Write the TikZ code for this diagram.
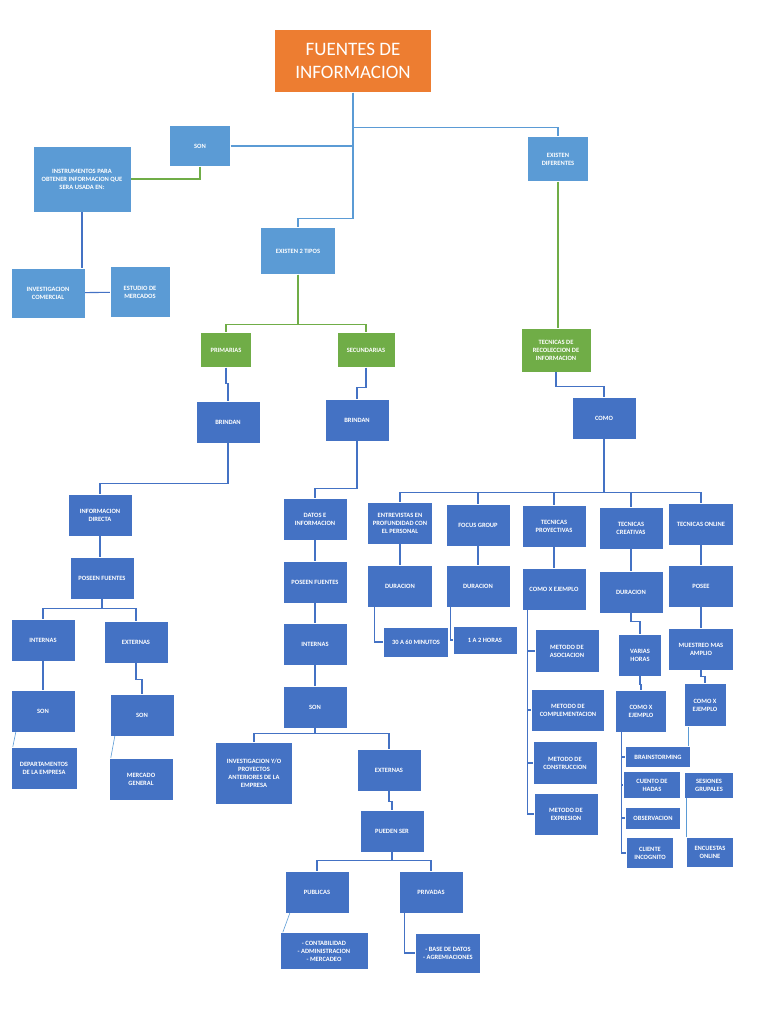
\documentclass[tikz,border=0pt]{standalone}
\usepackage{fontspec}
\setmainfont{Carlito}
\usetikzlibrary{positioning}
\definecolor{boxblue}{RGB}{68,114,196}
\definecolor{lightblue}{RGB}{91,155,213}
\definecolor{boxgreen}{RGB}{112,173,71}
\definecolor{titleorange}{RGB}{237,125,49}
\begin{document}
\begin{tikzpicture}[
  x=1pt, y=-1pt,
  box/.style = {draw=white, line width=0.4pt, fill=boxblue, text=white, align=center, inner sep=1pt,
                font=\bfseries\fontsize{6.5}{8}\selectfont, minimum width=64pt, minimum height=42pt},
  top/.style = {box, fill=lightblue},
  grn/.style = {box, fill=boxgreen},
  line/.style = {draw=boxblue, line width=1.1pt},
  topline/.style = {draw=lightblue, line width=1.1pt},
  gline/.style = {draw=boxgreen, line width=1.1pt},
  thin/.style = {draw=lightblue, line width=0.6pt}
  ]
	\useasboundingbox (0,0) rectangle (768,1024);

	% upper part
	\node[box, fill=titleorange, minimum width=157pt, minimum height=63pt, font=\fontsize{19}{23}\selectfont] (title) at (353,61) {FUENTES DE\\INFORMACION};
	\node[top, minimum width=61pt, minimum height=41pt] (son) at (200,146) {SON};
	\node[top, minimum width=98pt, minimum height=66pt] (instr) at (82,179) {INSTRUMENTOS PARA\\OBTENER INFORMACION QUE\\SERA USADA EN:};
	\node[top, minimum width=61pt, minimum height=45pt] (existen) at (558,159) {EXISTEN\\DIFERENTES};
	\node[top, minimum width=75pt, minimum height=47pt] (dostipos) at (298,251) {EXISTEN 2 TIPOS};
	\node[top, minimum width=74pt, minimum height=50pt] (invcom) at (48,293) {INVESTIGACION\\COMERCIAL};
	\node[top, minimum width=60pt, minimum height=51pt] (estmer) at (140,292) {ESTUDIO DE\\MERCADOS};
	\node[grn, minimum width=51pt, minimum height=35pt] (prim) at (226,350) {PRIMARIAS};
	\node[grn, minimum width=58pt, minimum height=35pt] (secu) at (366,350) {SECUNDARIAS};
	\node[grn, minimum width=70pt, minimum height=44pt] (tecrec) at (556,350) {TECNICAS DE\\RECOLECCION DE\\INFORMACION};
	\node[box] (brinP) at (228,422) {BRINDAN};
	\node[box] (brinS) at (357,420) {BRINDAN};
	\node[box] (como) at (604,418) {COMO};

	% primarias
	\node[box] (infdir) at (100,515) {INFORMACION\\DIRECTA};
	\node[box] (posP) at (102,578) {POSEEN FUENTES};
	\node[box] (intP) at (43,640) {INTERNAS};
	\node[box] (extP) at (136,642) {EXTERNAS};
	\node[box] (sonI) at (43,711) {SON};
	\node[box] (sonE) at (142,715) {SON};
	\node[box, minimum width=66pt] (depto) at (44,768) {DEPARTAMENTOS\\DE LA EMPRESA};
	\node[box] (mercado) at (141,779) {MERCADO\\GENERAL};

	% secundarias
	\node[box] (datos) at (315,519) {DATOS E\\INFORMACION};
	\node[box] (posS) at (315,582) {POSEEN FUENTES};
	\node[box] (intS) at (315,644) {INTERNAS};
	\node[box] (sonS) at (315,707) {SON};
	\node[box, minimum width=77pt, minimum height=62pt] (invest) at (254,773) {INVESTIGACION Y/O\\PROYECTOS\\ANTERIORES DE LA\\EMPRESA};
	\node[box] (extS) at (389,770) {EXTERNAS};
	\node[box] (pueden) at (392,831) {PUEDEN SER};
	\node[box] (publ) at (317,892) {PUBLICAS};
	\node[box] (priv) at (431,892) {PRIVADAS};
	\node[box, minimum width=88pt, minimum height=37pt] (conta) at (324,951) {- CONTABILIDAD\\- ADMINISTRACION\\- MERCADEO};
	\node[box, minimum width=65pt, minimum height=40pt] (bases) at (448,953) {- BASE DE DATOS\\- AGREMIACIONES};

	% tecnicas
	\node[box, minimum width=65pt] (entre) at (400,523) {ENTREVISTAS EN\\PROFUNDIDAD CON\\EL PERSONAL};
	\node[box] (focus) at (478,525) {FOCUS GROUP};
	\node[box] (proy) at (554,526) {TECNICAS\\PROYECTIVAS};
	\node[box] (crea) at (631,528) {TECNICAS\\CREATIVAS};
	\node[box, minimum width=65pt] (online) at (701,524) {TECNICAS ONLINE};
	\node[box, minimum width=65pt] (durE) at (400,586) {DURACION};
	\node[box] (durF) at (478,586) {DURACION};
	\node[box] (ejP) at (554,589) {COMO X EJEMPLO};
	\node[box] (durC) at (631,592) {DURACION};
	\node[box, minimum width=65pt] (posee) at (701,586) {POSEE};
	\node[box, minimum width=65pt, minimum height=30pt] (min) at (416,642) {30 A 60 MINUTOS};
	\node[box, minimum height=28pt] (horas) at (485,640) {1 A 2 HORAS};
	\node[box, minimum height=43pt] (asoc) at (567,651) {METODO DE\\ASOCIACION};
	\node[box, minimum width=73pt] (compl) at (568,710) {METODO DE\\COMPLEMENTACION};
	\node[box, minimum height=43pt] (constr) at (565,763) {METODO DE\\CONSTRUCCION};
	\node[box] (expr) at (566,814) {METODO DE\\EXPRESION};
	\node[box, minimum width=43pt] (varias) at (640,655) {VARIAS\\HORAS};
	\node[box, minimum width=51pt] (ejC) at (641,711) {COMO X\\EJEMPLO};
	\node[box, minimum width=65pt] (muest) at (701,649) {MUESTREO MAS\\AMPLIO};
	\node[box, minimum width=42pt, minimum height=43pt] (ejO) at (705,705) {COMO X\\EJEMPLO};
	\node[box, minimum width=65pt, minimum height=21pt] (brain) at (658,757) {BRAINSTORMING};
	\node[box, minimum width=57pt, minimum height=27pt] (cuento) at (652,785) {CUENTO DE\\HADAS};
	\node[box, minimum width=49pt, minimum height=26pt] (sesion) at (709,785) {SESIONES\\GRUPALES};
	\node[box, minimum width=55pt, minimum height=22pt] (observ) at (653,818) {OBSERVACION};
	\node[box, minimum width=47pt, minimum height=31pt] (cliente) at (650,853) {CLIENTE\\INCOGNITO};
	\node[box, minimum width=47pt, minimum height=30pt] (encuesta) at (710,852) {ENCUESTAS\\ONLINE};

	% connectors, upper part
	\draw[topline] (title.south) -- ++(0,35) -| (existen.north);
	\draw[topline] (son.east) -| (title.south);
	\draw[topline] (title.south) |- ([yshift=9pt]dostipos.north) -- (dostipos.north);
	\draw[gline] (son.south) |- (instr.east);
	\draw[line] (instr.south) -- (instr.south |- invcom.north);
	\draw[line] (invcom) -- (estmer);
	\draw[gline] (dostipos.south) -- ++(0,50) -| (prim.north);
	\draw[gline] (dostipos.south) -- ++(0,50) -| (secu.north);
	\draw[gline] (existen.south) -- (existen.south |- tecrec.north);
	\draw[line] (tecrec.south) -- ++(0,14) -| (como.north);
	\draw[line] (prim.south) -- ++(0,16) -| (brinP.north);
	\draw[line] (secu.south) -- ++(0,20) -| (brinS.north);

	% connectors, primarias
	\draw[line] (brinP.south) -- ++(0,40) -| (infdir.north);
	\draw[line] (infdir.south) -- (infdir.south |- posP.north);
	\draw[line] (posP.south) -- ++(0,9) -| (intP.north);
	\draw[line] (posP.south) -- ++(0,9) -| (extP.north);
	\draw[line] (intP) -- (sonI);
	\draw[line] (extP.south) -- ++(0,16) -| (sonE.north);
	\draw[thin] ([xshift=5pt]sonI.south west) -- ([xshift=2pt]depto.north west);
	\draw[thin] ([xshift=5pt]sonE.south west) -- ([xshift=2pt]mercado.north west);

	% connectors, secundarias
	\draw[line] (brinS.south) -- ++(0,47) -| (datos.north);
	\draw[line] (datos) -- (posS);
	\draw[line] (posS) -- (intS);
	\draw[line] (intS) -- (sonS);
	\draw[line] (sonS.south) -- ++(0,5) -| (invest.north);
	\draw[line] (sonS.south) -- ++(0,5) -| (extS.north);
	\draw[line] (extS.south) -- ++(0,10) -| (pueden.north);
	\draw[line] (pueden.south) -- ++(0,8) -| (publ.north);
	\draw[line] (pueden.south) -- ++(0,8) -| (priv.north);
	\draw[thin] ([xshift=5pt]publ.south west) -- ([xshift=3pt]conta.north west);
	\draw[line] ([xshift=6pt]priv.south west) |- (bases.west);

	% connectors, tecnicas
	\foreach \t in {entre,focus,proy,crea,online}
		\draw[line] (como.south) -- ++(0,53) -| (\t.north);
	\draw[line] (entre) -- (durE);
	\draw[line] (focus) -- (durF);
	\draw[line] (proy) -- (ejP);
	\draw[line] (crea) -- (durC);
	\draw[line] (online) -- (posee);
	\draw[line] ([xshift=7pt]durE.south west) |- (min.west);
	\draw[line] ([xshift=5pt]durF.south west) |- (horas.west);
	\foreach \m in {asoc,compl,constr,expr}
		\draw[line] ([xshift=6pt]ejP.south west) |- (\m.west);
	\draw[line] (durC.south) -- ++(0,8) -| (varias.north);
	\draw[line] (varias.south) -- ++(0,8) -| (ejC.north);
	\foreach \m in {brain,cuento,observ,cliente}
		\draw[line] ([xshift=6pt]ejC.south west) |- (\m.west);
	\draw[line] (posee) -- (muest);
	\draw[line] (muest.south) -- ++(0,6) -| (ejO.north);
	\draw[thin] ([xshift=4pt]ejO.south west) -- ([xshift=4pt]ejO.south west |- brain.north);
	\draw[thin] ([xshift=2pt]sesion.south west) -- ([xshift=2pt]sesion.south west |- encuesta.north);

\end{tikzpicture}
\end{document}
